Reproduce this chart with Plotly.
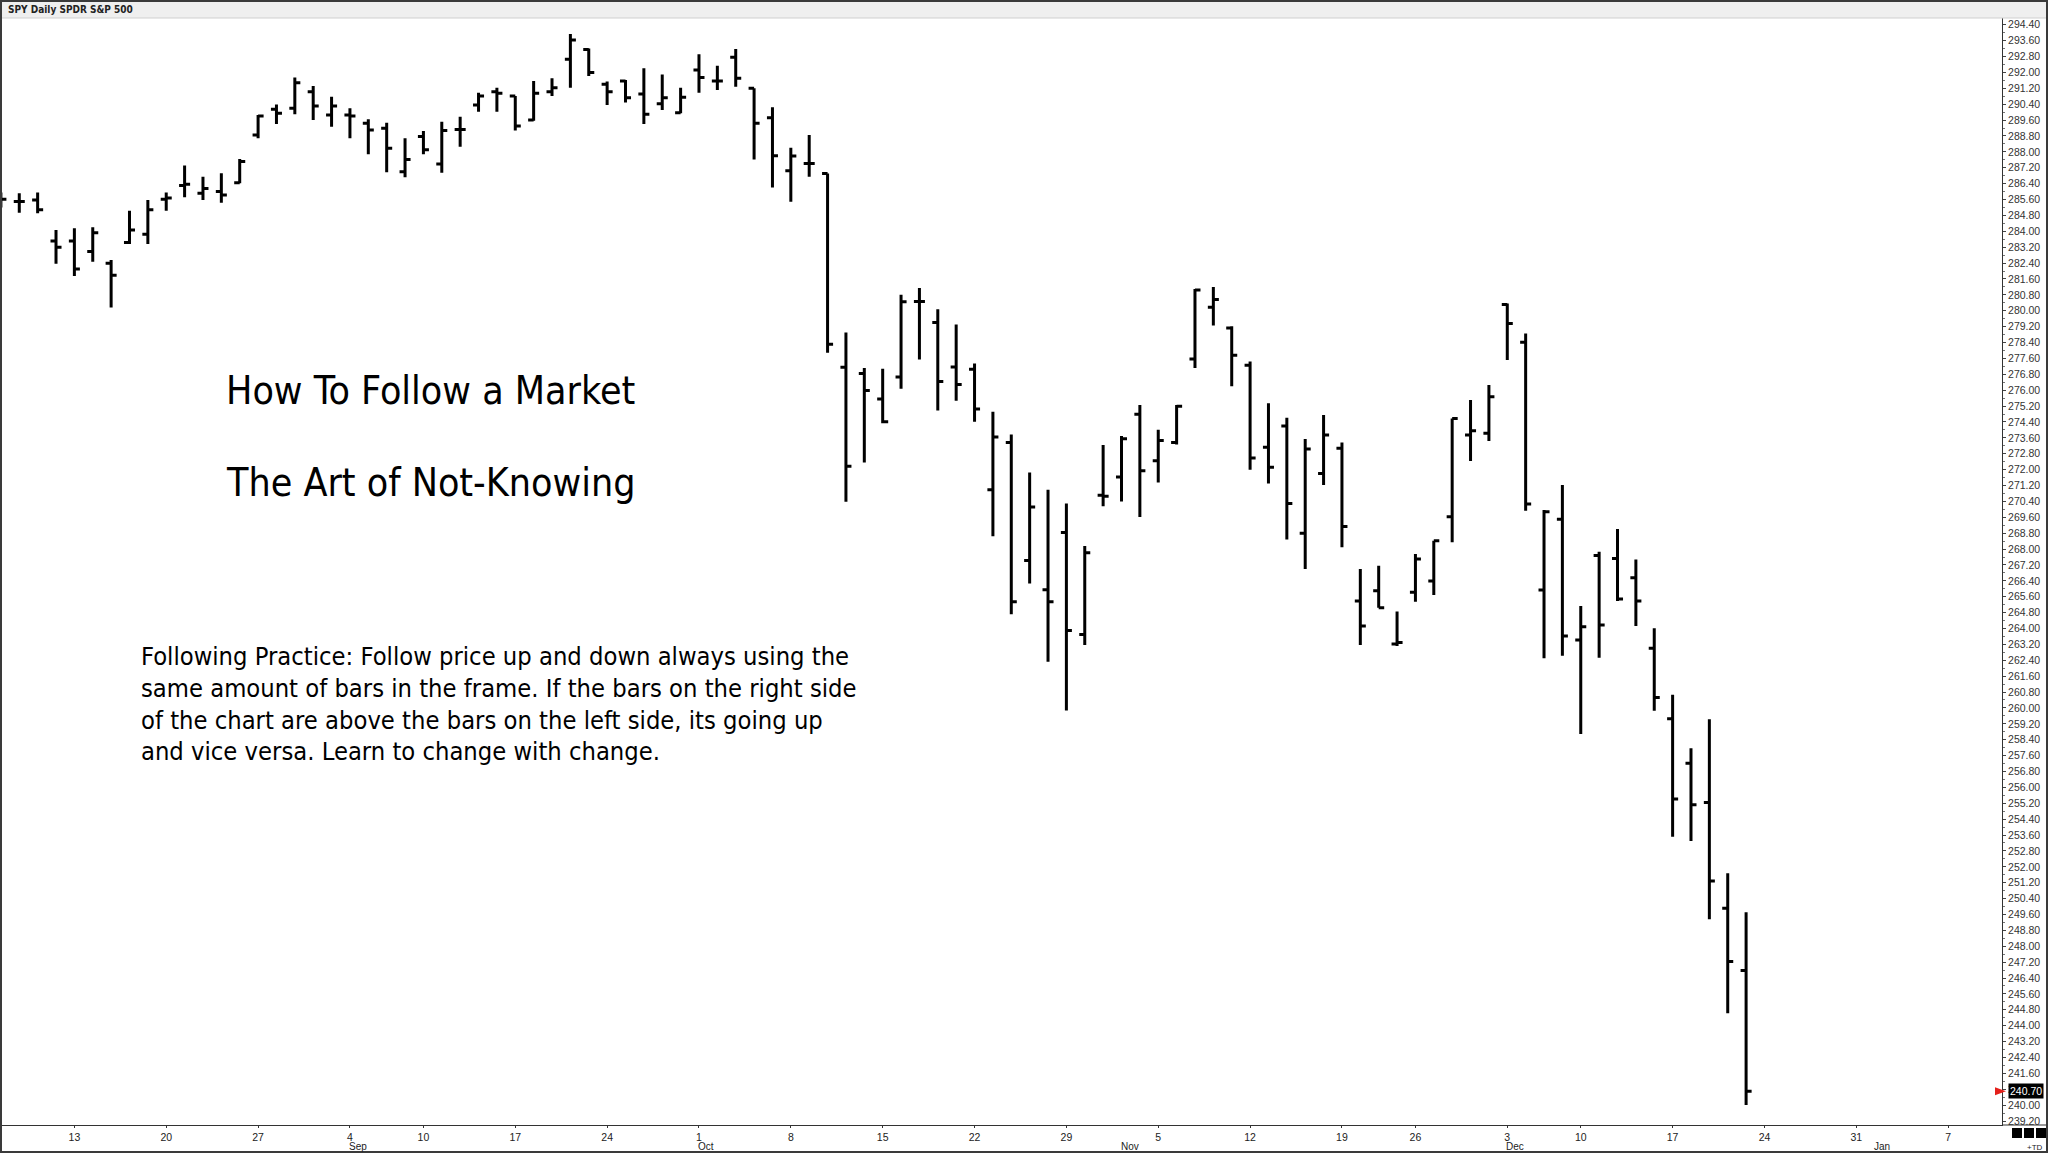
import pandas as pd
import plotly.graph_objects as go

# ---------------- data ----------------
first_day, last_day = "2018-08-07", "2018-12-21"
market_holidays = ["2018-09-03", "2018-11-22", "2018-12-05"]

open_ = [285.45, 285.50, 285.58, 283.51, 283.51, 282.98, 282.39, 283.43, 283.85, 285.61,
         286.30, 285.91, 286.00, 286.45, 288.85, 290.14, 290.19, 291.03, 289.86, 289.86,
         289.44, 289.19, 287.00, 288.77, 287.39, 289.13, 290.36, 291.03, 290.81, 289.61,
         291.03, 292.66, 293.16, 291.40, 291.57, 290.91, 290.42, 289.97, 292.12, 291.57,
         292.76, 291.20, 289.72, 287.05, 287.42, 286.91, 277.15, 276.84, 275.56, 276.66,
         280.47, 279.41, 277.17, 277.06, 270.99, 273.36, 267.42, 265.95, 268.84, 263.70,
         270.71, 271.63, 274.79, 272.45, 273.36, 277.57, 280.17, 279.13, 277.25, 273.13,
         274.19, 268.79, 271.81, 273.07, 265.38, 265.90, 263.22, 265.82, 266.39, 269.63,
         273.74, 273.83, 280.32, 278.41, 265.94, 269.50, 263.42, 267.67, 267.53, 266.56,
         263.00, 259.45, 257.22, 255.24, 249.91, 246.78]
high = [285.95, 285.91, 285.95, 284.07, 284.15, 284.20, 282.56, 285.04, 285.58, 285.95,
        287.31, 286.75, 286.92, 287.64, 289.86, 290.39, 291.74, 291.32, 290.78, 290.19,
        289.64, 289.47, 288.68, 289.05, 289.52, 289.77, 290.98, 291.23, 290.81, 291.57,
        291.70, 293.94, 293.21, 291.54, 291.62, 292.21, 291.89, 291.23, 292.91, 292.34,
        293.18, 291.20, 290.24, 288.21, 288.85, 286.91, 278.91, 277.12, 277.08, 280.81,
        281.14, 280.08, 279.31, 277.34, 274.92, 273.77, 271.85, 270.99, 270.29, 268.15,
        273.24, 273.69, 275.25, 274.01, 275.25, 281.09, 281.20, 279.22, 277.45, 275.34,
        274.61, 273.54, 274.75, 273.37, 266.99, 267.16, 264.85, 267.75, 268.42, 274.58,
        275.50, 276.26, 280.37, 278.86, 269.97, 271.22, 265.13, 267.87, 269.01, 267.48,
        264.01, 260.66, 257.97, 259.43, 251.68, 249.71]
low = [285.20, 284.94, 284.91, 282.36, 281.75, 282.47, 280.16, 283.36, 283.36, 285.04,
       285.71, 285.58, 285.44, 286.42, 288.68, 289.40, 289.89, 289.60, 289.27, 288.68,
       287.88, 286.97, 286.72, 287.88, 286.95, 288.26, 290.02, 290.02, 289.07, 289.57,
       290.81, 291.23, 291.82, 290.36, 290.48, 289.40, 290.11, 289.94, 290.98, 291.12,
       291.28, 287.62, 286.21, 285.49, 286.75, 277.89, 270.38, 272.36, 274.33, 276.07,
       277.54, 274.98, 275.47, 274.41, 268.64, 264.72, 266.26, 262.33, 259.87, 263.17,
       270.16, 270.40, 269.61, 271.35, 273.27, 277.12, 279.26, 276.20, 271.99, 271.30,
       268.48, 266.99, 271.22, 268.09, 263.17, 265.05, 263.12, 265.35, 265.69, 268.34,
       272.43, 273.44, 277.52, 269.93, 262.50, 262.63, 258.69, 262.53, 265.38, 264.12,
       259.86, 253.52, 253.30, 249.36, 244.63, 240.01]
close = [285.61, 285.50, 285.08, 283.20, 282.10, 283.93, 281.79, 284.07, 285.08, 285.68,
         286.37, 286.16, 285.83, 287.51, 289.81, 289.94, 291.48, 290.31, 290.31, 289.81,
         289.10, 288.18, 287.62, 288.10, 289.07, 289.13, 290.81, 290.95, 289.30, 290.95,
         291.23, 293.63, 291.99, 291.03, 290.73, 289.89, 290.73, 290.75, 291.75, 291.57,
         291.70, 289.44, 287.81, 287.79, 287.42, 278.31, 272.17, 275.98, 274.41, 280.45,
         280.47, 276.44, 276.29, 275.05, 273.64, 265.35, 270.12, 265.35, 263.90, 267.82,
         270.66, 273.55, 271.94, 273.46, 275.19, 281.05, 280.56, 277.76, 272.58, 272.12,
         270.29, 273.04, 273.74, 269.13, 264.12, 265.05, 263.29, 267.50, 268.42, 274.58,
         273.96, 275.67, 279.36, 270.27, 269.88, 263.62, 264.09, 264.17, 265.48, 265.38,
         260.53, 255.42, 255.12, 251.29, 247.23, 240.70]

tick_dates = ["2018-08-13", "2018-08-20", "2018-08-27", "2018-09-04", "2018-09-10",
              "2018-09-17", "2018-09-24", "2018-10-01", "2018-10-08", "2018-10-15",
              "2018-10-22", "2018-10-29", "2018-11-05", "2018-11-12", "2018-11-19",
              "2018-11-26", "2018-12-03", "2018-12-10", "2018-12-17", "2018-12-24",
              "2018-12-31", "2019-01-07"]
tick_labels = ["13", "20", "27", "4", "10", "17", "24", "1", "8", "15", "22", "29",
               "5", "12", "19", "26", "3", "10", "17", "24", "31", "7"]
month_dates = ["2018-09-04", "2018-10-01", "2018-11-01", "2018-12-03", "2019-01-01"]
month_labels = ["Sep", "Oct", "Nov", "Dec", "Jan"]

header_text = "SPY Daily SPDR S&P 500"
title_1 = "How To Follow a Market"
title_2 = "The Art of Not-Knowing"
paragraph_lines = [
    "Following Practice: Follow price up and down always using the",
    "same amount of bars in the frame. If the bars on the right side",
    "of the chart are above the bars on the left side, its going up",
    "and vice versa. Learn to change with change.",
]

# ---------------- trading-day axis ----------------
bar_days = [d for d in pd.bdate_range(first_day, last_day)
            if d.strftime("%Y-%m-%d") not in market_holidays]
future_days = list(pd.bdate_range("2018-12-24", "2019-01-31"))
all_days = [d.strftime("%Y-%m-%d") for d in bar_days + future_days]
pos = {d: i for i, d in enumerate(all_days)}
x_bars = list(range(len(bar_days)))

# ---------------- geometry (pixels) ----------------
W, H = 2048, 1153
L, R, T, B = 2, 46, 18, 28
PW, PH = W - L - R, H - T - B


def px(fx):
    return (fx - L) / PW


def py(fy):
    return (H - B - fy) / PH


fig = go.Figure()
fig.add_trace(go.Ohlc(
    x=x_bars, open=open_, high=high, low=low, close=close,
    increasing=dict(line=dict(color="black", width=3)),
    decreasing=dict(line=dict(color="black", width=3)),
    tickwidth=0.3, showlegend=False, hoverinfo="skip",
))

label_font = "Liberation Sans Narrow, Liberation Sans, Arial, sans-serif"
text_font = "Tahoma, DejaVu Sans Condensed, DejaVu Sans, sans-serif"

fig.update_layout(
    width=W, height=H,
    margin=dict(l=L, r=R, t=T, b=B, pad=0),
    paper_bgcolor="white", plot_bgcolor="white",
    showlegend=False,
    xaxis=dict(
        range=[0.06, 108.93], rangeslider=dict(visible=False),
        tickmode="array", tickvals=[pos[d] for d in tick_dates], ticktext=tick_labels,
        ticks="outside", ticklen=2, tickcolor="#333", tickwidth=1,
        showline=True, linecolor="#333", linewidth=1,
        showgrid=False, zeroline=False,
        tickfont=dict(family=label_font, size=10.5, color="#222"),
    ),
    yaxis=dict(
        side="right", range=[239.0, 294.74],
        tick0=239.2, dtick=0.8, tickformat=".2f",
        ticks="outside", ticklen=3, tickcolor="#444",
        minor=dict(dtick=0.4, ticks="outside", ticklen=2, tickcolor="#777"),
        showline=True, linecolor="#333", linewidth=1,
        showgrid=False, zeroline=False,
        tickfont=dict(family="Liberation Sans, Arial, sans-serif", size=10.5, color="#333"),
    ),
)

shapes = []
annotations = []

# header band
shapes.append(dict(type="rect", xref="paper", yref="paper",
                   x0=px(0), x1=px(W), y0=py(T), y1=py(0),
                   fillcolor="#efefef", line=dict(width=0), layer="below"))
shapes.append(dict(type="line", xref="paper", yref="paper",
                   x0=px(0), x1=px(W), y0=py(T), y1=py(T),
                   line=dict(color="#cfcfcf", width=1)))
annotations.append(dict(xref="paper", yref="paper", x=px(6), y=py(9),
                        xanchor="left", yanchor="middle", showarrow=False,
                        text=f"<b>{header_text}</b>",
                        font=dict(family=text_font, size=10, color="#222")))

# month names below day numbers
for d, m in zip(month_dates, month_labels):
    annotations.append(dict(xref="x", yref="paper", x=pos[d], y=py(1146.5),
                            xanchor="left", yanchor="middle", showarrow=False,
                            xshift=-3, text=m,
                            font=dict(family=label_font, size=10, color="#222")))

# extension of the x-axis line under the price scale
shapes.append(dict(type="line", xref="paper", yref="paper",
                   x0=1, x1=px(W), y0=0, y1=0, line=dict(color="#333", width=1)))

# titles
annotations.append(dict(xref="paper", yref="paper", x=px(224), y=py(390),
                        xanchor="left", yanchor="middle", showarrow=False,
                        text=title_1, font=dict(family=text_font, size=39, color="black")))
annotations.append(dict(xref="paper", yref="paper", x=px(224), y=py(483),
                        xanchor="left", yanchor="middle", showarrow=False,
                        text=title_2, font=dict(family=text_font, size=39, color="black")))

# paragraph, one line per annotation for exact spacing
para_y = [657, 688, 720, 751]
for line, fy in zip(paragraph_lines, para_y):
    annotations.append(dict(xref="paper", yref="paper", x=px(139), y=py(fy),
                            xanchor="left", yanchor="middle", showarrow=False,
                            text=line, font=dict(family=text_font, size=25.3, color="black")))

# last price marker
last = close[-1]
annotations.append(dict(xref="paper", yref="y", x=px(2008), y=last,
                        xanchor="left", yanchor="middle", showarrow=False,
                        text=f"{last:.2f}", bgcolor="black", borderpad=1,
                        font=dict(family="Liberation Sans, Arial, sans-serif", size=10.5, color="white")))
ax0, ax1 = px(1995), px(2006)
shapes.append(dict(type="path", xref="paper", yref="y",
                   path=f"M {ax0},{last + 0.2} L {ax1},{last} L {ax0},{last - 0.2} Z",
                   fillcolor="#e4201b", line=dict(width=0)))

# small squares and +TD at bottom right
for i in range(3):
    x0 = 2012 + i * 12
    shapes.append(dict(type="rect", xref="paper", yref="paper",
                       x0=px(x0), x1=px(x0 + 10), y0=py(1138), y1=py(1128),
                       fillcolor="black", line=dict(width=0)))
annotations.append(dict(xref="paper", yref="paper", x=px(2045), y=py(1147),
                        xanchor="right", yanchor="middle", showarrow=False,
                        text="+TD", font=dict(family=label_font, size=8, color="#222")))

# outer frame
shapes.append(dict(type="rect", xref="paper", yref="paper",
                   x0=px(1), x1=px(W - 1), y0=py(H - 1), y1=py(1),
                   line=dict(color="#3a3a3a", width=2), fillcolor="rgba(0,0,0,0)"))

fig.update_layout(shapes=shapes, annotations=annotations)
fig.write_html("out.html")
